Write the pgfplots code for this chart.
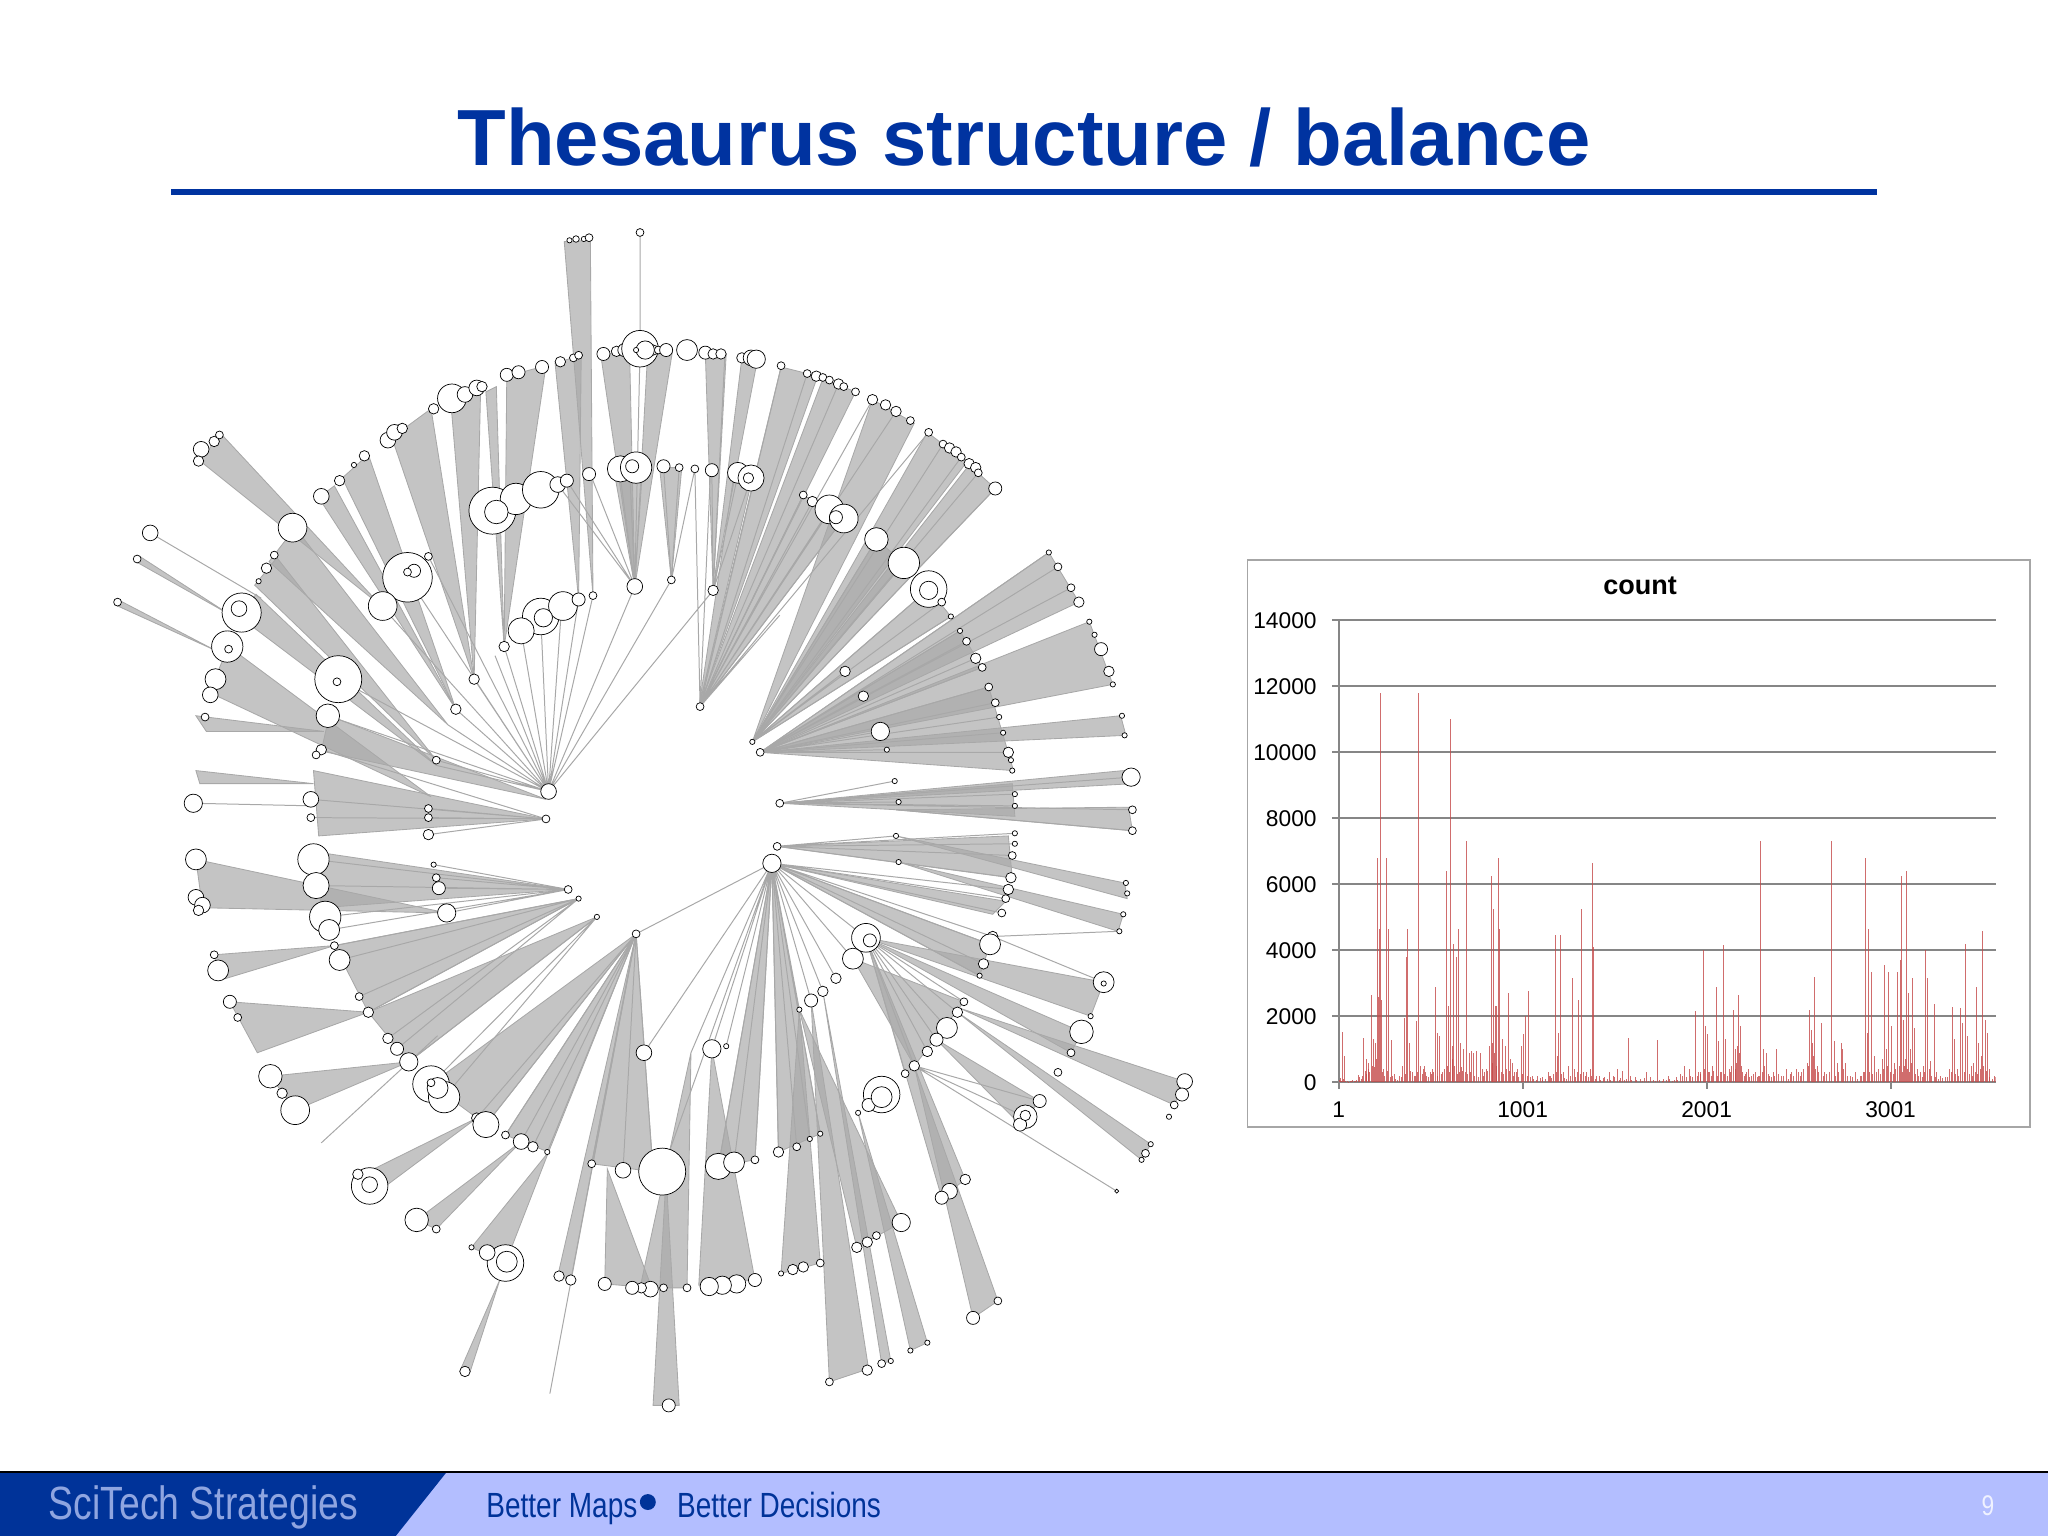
\documentclass[border=0pt]{standalone}
\usepackage{fontspec}
\setmainfont{Liberation Sans}
\newfontfamily\narrowfont[FakeStretch=0.8]{Liberation Sans}
\usepackage{pgfplots}
\pgfplotsset{compat=1.18}
\definecolor{titleblue}{RGB}{0,51,160}
\definecolor{footdark}{RGB}{0,51,153}
\definecolor{footlight}{RGB}{179,190,255}
\definecolor{sciblue}{RGB}{143,165,224}
\definecolor{treegray}{RGB}{168,168,168}
\definecolor{barred}{RGB}{196,72,72}
\definecolor{gridgray}{RGB}{134,134,134}
\newcommand{\fan}[6]{\addplot[fill=treegray, fill opacity=0.68, draw=treegray, line width=0.3pt, forget plot] coordinates {(#1,#2) (#3,#4) (#5,#6)} --cycle;}
\begin{document}
\begin{tikzpicture}
\begin{axis}[at={(0,0)}, anchor=south west, scale only axis, width=720pt, height=540pt,
  xmin=0, xmax=1568, ymin=0, ymax=1176, y dir=reverse, hide axis, clip=false]
% ---------- title ----------
\node[anchor=base, inner sep=0, text=titleblue, font=\bfseries\fontsize{28}{30}\selectfont] at (axis cs:784,127) {Thesaurus structure / balance};
\draw[titleblue, line width=2pt] (axis cs:131,147) -- (axis cs:1437,147);
% ---------- chart frame ----------
\draw[gray!70, line width=0.6pt] (axis cs:955,429) rectangle (axis cs:1554,863);
% ---------- footer ----------
\fill[footlight] (axis cs:0,1127) rectangle (axis cs:1568,1176);
\fill[footdark] (axis cs:0,1127) -- (axis cs:342,1127) -- (axis cs:303,1176) -- (axis cs:0,1176) -- cycle;
\draw[black, line width=1pt] (axis cs:0,1127) -- (axis cs:1568,1127);
\node[anchor=base west, inner sep=0, text=sciblue, font=\narrowfont\fontsize{16.4}{17}\selectfont] at (axis cs:37,1163) {SciTech Strategies};
\node[anchor=base west, inner sep=0, text=footdark, font=\narrowfont\fontsize{12.3}{13}\selectfont] at (axis cs:372,1162) {Better Maps};
\fill[footdark] (axis cs:496,1150) circle (2.8pt);
\node[anchor=base west, inner sep=0, text=footdark, font=\narrowfont\fontsize{12.3}{13}\selectfont] at (axis cs:518,1162) {Better Decisions};
\node[anchor=base, inner sep=0, text=white!80!footlight, font=\narrowfont\fontsize{10}{11}\selectfont] at (axis cs:1522,1160) {9};
% ---------- radial tree: fans ----------
\fan{454}{456}{432}{185}{452}{184}
\fan{486}{449}{460}{272}{482}{268}
\fan{486}{449}{496}{268}{515}{268}
\fan{486}{449}{470}{360}{492}{357}
\fan{443}{459}{425}{278}{445}{272}
\fan{386}{495}{388}{288}{418}{280}
\fan{386}{495}{372}{300}{380}{296}
\fan{363}{520}{345}{306}{368}{296}
\fan{363}{520}{300}{335}{330}{313}
\fan{349}{543}{262}{366}{282}{348}
\fan{349}{543}{244}{381}{256}{372}
\fan{343}{555}{206}{430}{226}{404}
\fan{334}{582}{195}{448}{212}{427}
\fan{334}{586}{183}{472}{196}{455}
\fan{330}{610}{160}{530}{175}{495}
\fan{292}{464}{152}{352}{170}{333}
\fan{175}{470}{104}{430}{107}{426}
\fan{165}{498}{88}{463}{92}{460}
\fan{535}{542}{598}{281}{626}{288}
\fan{535}{542}{630}{290}{655}{300}
\fan{535}{542}{562}{363}{576}{366}
\fan{546}{452}{540}{270}{556}{271}
\fan{546}{452}{568}{274}{580}{275}
\fan{514}{444}{505}{358}{522}{358}
\fan{576}{568}{668}{306}{700}{324}
\fan{576}{568}{710}{331}{740}{354}
\fan{576}{568}{742}{356}{762}{374}
\fan{535}{542}{615}{379}{646}{397}
\fan{576}{568}{671}{413}{692}{431}
\fan{576}{568}{711}{451}{728}{472}
\fan{582}{576}{735}{483}{752}{511}
\fan{582}{576}{757}{526}{776}{590}
\fan{582}{576}{803}{423}{826}{461}
\fan{582}{576}{834}{476}{852}{524}
\fan{582}{576}{858}{548}{862}{563}
\fan{597}{615}{860}{590}{867}{600}
\fan{597}{615}{775}{600}{777}{625}
\fan{686}{620}{864}{618}{867}{636}
\fan{595}{648}{772}{640}{775}{672}
\fan{686}{640}{861}{676}{863}{688}
\fan{591}{661}{760}{700}{770}{690}
\fan{688}{660}{856}{713}{860}{700}
\fan{591}{661}{750}{747}{758}{723}
\fan{663}{718}{835}{778}{845}{752}
\fan{663}{718}{820}{806}{828}{790}
\fan{735}{772}{899}{846}{907}{828}
\fan{733}{775}{874}{888}{881}{876}
\fan{717}{796}{781}{861}{796}{843}
\fan{653}{734}{700}{816}{738}{767}
\fan{663}{718}{721}{917}{739}{903}
\fan{700}{816}{745}{1009}{764}{996}
\fan{657}{852}{697}{1034}{710}{1028}
\fan{612}{773}{598}{975}{628}{967}
\fan{612}{773}{656}{955}{690}{936}
\fan{621}{766}{635}{1058}{665}{1048}
\fan{630}{759}{675}{1044}{682}{1042}
\fan{545}{803}{535}{984}{578}{980}
\fan{529}{806}{490}{986}{526}{986}
\fan{510}{900}{500}{1076}{520}{1076}
\fan{591}{661}{550}{893}{578}{888}
\fan{591}{661}{596}{882}{628}{868}
\fan{487}{715}{330}{830}{372}{861}
\fan{487}{715}{387}{869}{420}{882}
\fan{487}{715}{453}{891}{500}{897}
\fan{487}{715}{427}{977}{437}{980}
\fan{365}{856}{276}{900}{290}{912}
\fan{399}{874}{319}{934}{334}{941}
\fan{420}{882}{361}{955}{387}{967}
\fan{465}{895}{463}{983}{499}{986}
\fan{383}{979}{352}{1050}{360}{1050}
\fan{457}{702}{282}{775}{313}{813}
\fan{443}{688}{256}{724}{282}{775}
\fan{256}{724}{164}{731}{170}{750}
\fan{282}{775}{176}{767}{197}{806}
\fan{313}{813}{207}{824}{226}{850}
\fan{435}{681}{240}{652}{246}{695}
\fan{342}{699}{150}{658}{155}{695}
\fan{418}{627}{240}{590}{244}{640}
\fan{418}{612}{246}{575}{252}{548}
\fan{240}{600}{150}{590}{153}{600}
\fan{248}{560}{150}{548}{158}{560}
% ---------- radial tree: single links ----------
\addplot[treegray, line width=0.35pt, unbounded coords=jump, forget plot] table {
x y
420 606
454 456
420 606
443 459
420 606
430 464
420 606
414 472
420 606
399 483
420 606
386 495
420 606
379 502
420 606
363 520
420 606
349 543
420 606
343 555
420 606
334 582
420 606
334 586
420 606
328 426
420 606
312 442
420 606
292 464
420 606
259 520
420 606
251 548
420 606
486 449
420 606
514 444
420 606
546 452
nan nan
418 627
328 619
418 627
328 626
418 627
328 639
418 627
238 612
418 627
238 626
418 627
246 574
nan nan
435 681
332 662
435 681
334 672
435 681
336 680
435 681
342 699
435 681
240 658
435 681
242 678
435 681
249 702
435 681
252 712
nan nan
443 688
256 724
443 688
260 735
443 688
275 763
443 688
282 775
443 688
297 795
443 688
304 803
nan nan
457 702
313 813
457 702
330 830
457 702
340 840
nan nan
487 715
365 856
487 715
372 861
487 715
387 869
487 715
399 874
487 715
408 878
487 715
419 882
487 715
453 891
487 715
477 896
487 715
500 897
487 715
421 1067
nan nan
486 449
490 268
486 449
482 357
486 449
474 358
486 449
452 363
486 449
434 368
486 449
427 371
nan nan
490 268
490 178
nan nan
514 444
508 357
514 444
520 358
514 444
532 359
nan nan
546 452
545 360
546 452
565 363
546 452
575 366
546 452
555 271
nan nan
536 541
532 359
536 541
544 360
536 541
615 379
536 541
622 384
536 541
635 390
536 541
646 397
536 541
598 281
536 541
618 286
536 541
642 294
536 541
668 306
536 541
686 315
536 541
711 331
536 541
597 471
nan nan
576 568
671 413
576 568
692 431
576 568
711 451
576 568
721 461
576 568
728 472
576 568
647 514
576 568
722 340
576 568
736 350
576 568
749 362
576 568
762 374
nan nan
582 576
735 483
582 576
740 491
582 576
747 504
582 576
752 511
582 576
757 526
582 576
762 538
582 576
765 549
582 576
768 561
582 576
772 576
582 576
661 533
582 576
674 560
582 576
679 574
582 576
803 423
582 576
810 434
582 576
820 450
nan nan
597 615
685 598
597 615
688 614
597 615
777 608
597 615
777 617
597 615
866 595
597 615
867 620
nan nan
595 648
686 640
595 648
777 638
595 648
777 646
595 648
775 655
595 648
774 672
nan nan
591 661
772 681
591 661
770 688
591 661
767 699
591 661
760 717
591 661
758 723
591 661
753 738
591 661
750 747
591 661
663 718
591 661
653 734
591 661
640 749
591 661
630 759
591 661
621 766
591 661
612 773
591 661
545 803
591 661
556 801
591 661
529 806
591 661
493 806
591 661
507 897
591 661
550 893
591 661
562 890
591 661
578 888
591 661
596 882
591 661
610 878
591 661
620 872
591 661
628 868
591 661
487 715
nan nan
663 718
738 767
663 718
733 775
663 718
725 787
663 718
717 796
663 718
710 805
663 718
700 816
663 718
693 822
nan nan
700 816
855 912
700 816
796 843
700 816
785 855
nan nan
760 717
845 752
760 717
857 713
nan nan
246 875
335 793
nan nan
115 408
200 458
nan nan
148 615
240 617
nan nan
686 620
867 636
};
% ---------- radial tree: nodes ----------
\addplot[scatter, only marks, mark=*, point meta=explicit,
  scatter/use mapped color={draw=black, fill=white},
  mark options={line width=0.25pt},
  visualization depends on={0.459*\thisrow{r} \as \msz},
  scatter/@pre marker code/.append style={/tikz/mark size=\msz},
  forget plot] table[meta=r] {
x y r
436 184 2
441 183 2.5
447 183 2
451 182 3
490 178 3
462 271 5
472 269 4
478 268 5
490 267 14
500 268 4
504 268 3
510 268 5
526 268 8
540 270 5
546 271 4
552 271 4
568 274 4
575 274 6
579 275 7
388 287 5
397 285 5
415 281 5
429 277 4
439 274 3
443 272 3
346 305 11
356 302 6
365 297 6
369 296 4
332 313 4
297 337 6
302 331 6
308 328 4
279 349 4
271 356 2
260 368 4
246 380 6
210 425 3
204 435 4
198 445 2
224 404 11
154 344 6
164 338 4
168 333 3
152 353 4
115 408 6
105 428 3
90 461 3
185 469 15
174 495 12
165 520 8
161 532 6
157 549 3
148 615 7
150 658 8
150 687 6
155 693 6
152 697 4
164 731 3
167 743 8
176 767 5
182 779 3
207 824 9
216 837 4
226 850 11
259 520 18
251 548 9
246 574 4
242 578 3
238 612 6
238 626 3
240 658 12
242 678 10
249 702 12
252 712 8
256 724 3
260 735 8
275 763 3
282 775 4
297 795 4
304 803 5
313 813 7
330 830 14
340 840 12
365 856 4
372 861 10
387 869 3
399 874 6
408 878 4
419 882 2
453 891 3
477 896 6
500 897 3
312 442 19
293 464 11
317 437 5
328 426 3
377 391 18
395 382 12
414 375 14
427 371 6
434 368 5
451 363 5
475 359 10
487 358 12
508 357 5
520 358 3
532 359 3
545 360 5
565 362 8
575 366 10
414 472 14
431 464 11
443 459 5
399 483 10
386 495 4
363 520 4
349 543 4
334 582 3
454 456 3
486 449 6
514 444 3
546 452 4
420 606 6
418 627 3
328 619 3
328 626 3
328 639 4
332 662 2
334 672 3
336 680 5
342 699 7
435 681 3
443 688 2
457 702 2
487 715 3
536 541 3
576 568 2
582 576 3
597 615 3
595 648 3
591 661 7
598 280 3
618 286 3
625 288 4
630 289 3
635 291 3
642 294 4
646 296 3
655 300 3
668 306 4
678 310 4
686 315 4
697 322 3
711 331 3
722 340 3
727 343 4
732 346 4
736 350 3
742 355 4
747 358 4
749 362 3
762 374 5
615 379 3
622 384 4
635 390 11
646 397 11
671 413 9
692 431 12
711 451 14
721 461 3
728 472 2
803 423 2
810 434 3
820 450 3
826 461 4
834 476 2
838 486 2
843 497 5
849 514 4
852 524 2
859 548 2
861 563 2
866 595 7
867 620 3
867 636 3
735 483 2
740 491 3
747 504 4
752 511 3
757 526 3
762 538 3
765 549 2
768 561 2
772 576 4
774 582 2
775 590 2
777 608 2
777 617 2
777 638 2
777 646 2
775 655 3
774 672 4
772 681 4
770 688 3
767 699 3
760 717 4
758 723 8
753 738 4
750 747 2
647 514 4
661 533 4
674 560 7
679 574 2
685 598 2
688 614 2
686 640 2
688 660 2
862 676 2
863 684 2
860 700 2
857 713 2
845 752 8
835 778 2
828 790 9
820 806 3
810 821 3
907 828 6
905 838 5
899 846 3
895 855 2
881 876 2
877 883 3
874 888 2
855 912 1.5
738 767 3
733 775 4
725 787 8
717 796 5
710 805 4
700 816 4
693 822 3
675 838 14
665 846 5
657 852 2
796 843 5
785 855 9
781 861 5
663 718 11
653 734 8
640 749 4
630 759 4
621 766 5
612 773 2
545 803 7
493 806 6
556 801 2
739 903 4
727 912 6
721 917 5
764 996 3
745 1009 5
710 1028 2
697 1034 2
682 1042 2
675 1044 3
664 1049 4
635 1058 3
512 1076 5
690 936 7
671 946 3
664 951 4
656 955 4
628 967 3
615 970 4
607 972 4
598 975 2
578 980 5
564 983 7
553 984 7
543 985 7
526 986 3
508 986 3
498 987 6
491 986 4
484 986 5
463 983 5
437 980 4
428 977 4
387 967 14
373 959 6
361 955 2
334 941 3
319 934 9
283 908 14
274 899 4
356 1050 4
507 897 18
550 893 10
562 890 8
578 888 3
596 882 4
610 878 3
620 872 2
628 868 2
};
% inner rings of the larger nodes
\addplot[scatter, only marks, mark=*, point meta=explicit,
  scatter/use mapped color={draw=black, fill=white},
  mark options={line width=0.25pt},
  visualization depends on={0.459*\thisrow{r} \as \msz},
  scatter/@pre marker code/.append style={/tikz/mark size=\msz},
  forget plot] table[meta=r] {
x y r
494 268 7
487 268 2
380 392 9
312 438 3
416 473 7
183 466 6
175 497 3
258 522 3
335 833 8
388 966 8
283 907 6
675 840 8
666 720 5
711 452 7
845 753 2
785 854 4
484 357 5
573 366 4
640 396 5
330 829 3
};
\end{axis}
% ================= count chart =================
\begin{axis}[at={(470.6pt,159.5pt)}, anchor=south west, scale only axis,
  width=231pt, height=162.4pt,
  xmin=0.5, xmax=3572.5, ymin=0, ymax=14000,
  xtick={1,1001,2001,3001}, ytick={0,2000,...,14000},
  ymajorgrids, grid style={gridgray, line width=0.7pt},
  axis x line*=bottom, axis y line*=left,
  axis line style={gridgray, line width=0.7pt, -},
  tick style={gridgray, line width=0.7pt},
  tick align=outside, major tick length=2.2pt,
  tick label style={font=\fontsize{8}{9}\selectfont},
  yticklabel style={xshift=-2pt},
  xticklabel style={yshift=-1pt},
  /pgf/number format/assume math mode=true,
  /pgf/number format/1000 sep={},
  scaled y ticks=false,
  title={count},
  title style={at={(axis description cs:0.459,1)}, anchor=center, yshift=6pt, font=\bfseries\fontsize{9.5}{10}\selectfont}]
\addplot[ycomb, barred, line width=0.3pt, opacity=0.8, mark=none] table {
x y
23 1520
34 800
107 230
138 1330
154 700
165 600
177 2650
191 1300
202 1200
213 6800
218 2600
224 4650
229 11800
235 2500
246 400
258 6800
271 4650
288 1280
302 250
330 200
358 1950
369 3800
377 4650
386 1200
402 300
422 1850
436 11800
447 500
469 500
497 300
511 400
528 2880
536 1500
550 1400
567 300
584 6400
598 2300
609 11000
617 1100
626 4200
640 3800
651 4650
662 1200
681 1000
695 7300
712 900
723 950
734 900
751 950
770 900
790 200
804 400
821 1100
829 6250
838 1200
843 5250
851 2300
860 2300
868 6800
876 4650
893 1300
907 1100
921 2700
932 700
943 600
957 300
971 400
994 1100
1007 1450
1018 2000
1035 2780
1055 200
1083 200
1111 150
1139 300
1152 200
1178 4470
1189 800
1197 1500
1205 4470
1222 300
1250 500
1270 3170
1283 400
1306 2500
1320 5250
1334 300
1350 300
1367 400
1381 6650
1386 4100
1403 200
1417 200
1445 150
1473 300
1493 200
1515 400
1543 350
1574 1330
1585 200
1613 150
1640 100
1674 300
1696 150
1733 1280
1766 100
1794 200
1836 150
1858 250
1880 500
1905 400
1939 2170
1955 300
1966 300
1981 4000
1992 1700
2003 1450
2017 300
2031 500
2053 2880
2067 1250
2081 300
2092 4150
2106 1300
2123 400
2137 500
2148 2200
2159 1000
2170 1100
2176 2650
2187 1700
2198 300
2212 250
2226 400
2245 200
2268 300
2282 200
2296 7300
2310 1000
2324 900
2343 200
2365 300
2379 1000
2407 200
2435 400
2463 300
2491 400
2519 300
2547 600
2560 2200
2569 1600
2574 1200
2585 3200
2602 500
2625 1800
2644 300
2666 300
2680 7300
2694 1250
2713 600
2733 1200
2741 1000
2756 600
2784 200
2811 300
2839 200
2853 300
2867 6800
2873 1500
2878 4650
2895 3330
2914 800
2936 400
2956 700
2970 3550
2978 1000
2990 3330
3006 1700
3020 600
3040 3330
3054 3700
3062 6250
3073 1900
3082 700
3087 6400
3098 2700
3110 1000
3121 3170
3129 1650
3146 400
3165 300
3179 500
3193 4000
3202 3150
3216 650
3238 2380
3252 300
3271 200
3299 150
3321 400
3338 2270
3347 1300
3363 400
3383 2250
3391 1800
3408 4200
3419 1400
3439 500
3452 600
3466 2880
3480 1200
3494 800
3503 4600
3514 1900
3525 1500
3536 400
3564 200
};
\addplot[ycomb, barred, line width=0.3pt, opacity=0.8, mark=none] table {
x y
5 60
12 120
18 40
28 90
40 30
48 50
55 20
63 40
70 25
78 60
85 30
92 50
100 80
115 150
122 90
130 200
145 350
150 250
160 400
170 300
183 500
195 450
207 700
240 300
252 200
265 350
280 150
295 200
310 100
320 80
340 150
350 500
362 250
392 350
410 200
416 180
428 300
455 250
462 400
475 300
480 200
490 150
505 250
518 300
540 200
558 250
575 400
590 500
604 300
620 700
632 500
645 250
657 300
668 450
675 350
688 300
700 250
718 300
740 200
760 150
780 400
795 300
812 350
835 600
848 900
857 500
885 300
898 250
912 400
930 350
950 200
965 300
980 150
1000 250
1025 200
1045 150
1060 100
1075 80
1095 120
1110 60
1125 100
1145 200
1160 120
1170 250
1185 300
1212 250
1230 120
1240 100
1260 200
1290 150
1300 300
1315 250
1340 200
1360 150
1375 200
1395 100
1425 80
1440 120
1460 100
1480 60
1500 150
1525 80
1535 120
1555 60
1565 100
1595 80
1620 60
1650 40
1665 120
1685 50
1710 60
1725 40
1745 80
1760 50
1780 60
1800 100
1815 50
1825 80
1845 60
1870 200
1890 150
1915 200
1925 150
1950 200
1970 250
1990 400
2010 300
2025 200
2040 350
2060 200
2075 300
2100 250
2115 200
2130 300
2155 400
2165 600
2180 900
2192 500
2205 200
2220 300
2235 150
2255 250
2275 150
2290 200
2305 300
2318 500
2335 250
2355 150
2372 200
2390 250
2420 200
2445 100
2455 250
2475 200
2500 300
2510 200
2530 400
2555 500
2580 800
2595 400
2610 300
2635 200
2655 250
2700 200
2720 300
2745 400
2765 200
2795 150
2820 100
2845 200
2860 300
2885 300
2905 250
2925 300
2945 250
2962 400
2985 500
3000 300
3015 250
3030 400
3048 500
3068 300
3078 500
3095 400
3105 300
3115 600
3135 250
3155 200
3172 150
3185 300
3210 400
3225 200
3245 150
3262 100
3285 120
3310 150
3330 300
3355 250
3372 200
3400 300
3430 250
3445 200
3460 300
3475 250
3488 400
3508 500
3520 350
3540 150
3555 100
3570 150
};
\end{axis}
\pgfresetboundingbox
\path[use as bounding box] (0,0) rectangle (720pt,540pt);
\end{tikzpicture}
\end{document}
